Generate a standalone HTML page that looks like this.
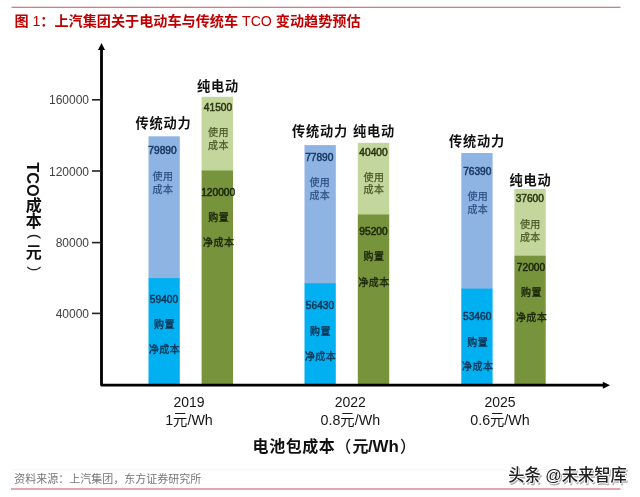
<!DOCTYPE html>
<html lang="zh-CN"><head><meta charset="utf-8"><title>图 1：上汽集团关于电动车与传统车 TCO 变动趋势预估</title>
<style>
html,body{margin:0;padding:0;background:#fff;}
body{width:640px;height:497px;overflow:hidden;position:relative;font-family:"Liberation Sans","Noto Sans CJK SC",sans-serif;}
svg{position:absolute;left:0;top:0;display:block}
.soft{filter:blur(0.45px)}
text{font-family:"Liberation Sans","Noto Sans CJK SC",sans-serif;}
.t{font-size:14.13px;fill:#c00000}
.tb{font-weight:bold}
.ax{font-size:12px;fill:#404040}
.xl{font-size:14px;fill:#161616}
.lab{font-size:13.2px;font-weight:bold;fill:#111;letter-spacing:0.8px}
.n{font-size:10.2px;stroke-width:0.5px}
.c{font-size:10px;letter-spacing:0.4px}
</style></head><body>
<svg width="640" height="497" viewBox="0 0 640 497">

<rect x="11.5" y="6.75" width="609" height="1" fill="#b85a66"/>
<rect x="11" y="488.5" width="609.5" height="1" fill="#d2485a"/>
<rect x="11.5" y="469.3" width="608.5" height="1" fill="#f4f4f4"/>
<g class="soft">
<text class="t" x="14.4" y="25.6"><tspan class="tb">图</tspan> 1<tspan class="tb">：上汽集团关于电动车与传统车</tspan> TCO <tspan class="tb">变动趋势预估</tspan></text>
<rect x="148.5" y="136.3" width="31.3" height="142.3" fill="#8eb4e3"/>
<rect x="148.5" y="278.1" width="31.3" height="105.9" fill="#00b0f0"/>
<rect x="201.6" y="96.8" width="31.4" height="74.2" fill="#c3d69b"/>
<rect x="201.6" y="170.5" width="31.4" height="213.5" fill="#77933c"/>
<rect x="304.5" y="145.1" width="31.3" height="138.8" fill="#8eb4e3"/>
<rect x="304.5" y="283.3" width="31.3" height="100.7" fill="#00b0f0"/>
<rect x="357.8" y="142.8" width="31.4" height="72.2" fill="#c3d69b"/>
<rect x="357.8" y="214.5" width="31.4" height="169.5" fill="#77933c"/>
<rect x="461.3" y="153.0" width="31.3" height="136.1" fill="#8eb4e3"/>
<rect x="461.3" y="288.6" width="31.3" height="95.4" fill="#00b0f0"/>
<rect x="514.4" y="189.0" width="31.3" height="67.2" fill="#c3d69b"/>
<rect x="514.4" y="255.7" width="31.3" height="128.3" fill="#77933c"/>
<polyline points="101.5,49 101.5,385.1 603,385.1" fill="none" stroke="#000" stroke-width="2.8" stroke-linejoin="round"/>
<polygon points="101.5,43 105,50 98,50" fill="#000"/>
<polygon points="610,385.2 602.8,381.7 602.8,388.7" fill="#000"/>
<rect x="92" y="99.0" width="9" height="1.6" fill="#222"/>
<text class="ax" x="89" y="104.4" text-anchor="end">160000</text>
<rect x="92" y="170.2" width="9" height="1.6" fill="#222"/>
<text class="ax" x="89" y="175.6" text-anchor="end">120000</text>
<rect x="92" y="241.79999999999998" width="9" height="1.6" fill="#222"/>
<text class="ax" x="89" y="247.2" text-anchor="end">80000</text>
<rect x="92" y="312.59999999999997" width="9" height="1.6" fill="#222"/>
<text class="ax" x="89" y="318.0" text-anchor="end">40000</text>
<text x="33.4" y="162.2" style="writing-mode:vertical-rl;font-size:16.4px;font-weight:bold;fill:#111">TCO</text>
<text x="32.2" y="196.6" style="writing-mode:vertical-rl;font-size:16px;font-weight:bold;fill:#111">成本</text>
<text x="32.2" y="244.4" style="writing-mode:vertical-rl;font-size:16px;font-weight:bold;fill:#111">元</text>
<text transform="translate(33.4,236.4) rotate(90)" x="-11.5" y="5" style="font-size:14.5px;font-weight:500;fill:#222">（</text>
<text transform="translate(33.4,268.8) rotate(90)" x="-3" y="5" style="font-size:14.5px;font-weight:500;fill:#222">）</text>
<text class="lab" x="163.4" y="128.1" text-anchor="middle">传统动力</text>
<text class="lab" x="218.1" y="90.80000000000001" text-anchor="middle">纯电动</text>
<text class="lab" x="320.09999999999997" y="136.4" text-anchor="middle">传统动力</text>
<text class="lab" x="374.09999999999997" y="136.4" text-anchor="middle">纯电动</text>
<text class="lab" x="476.9" y="145.9" text-anchor="middle">传统动力</text>
<text class="lab" x="530.4" y="184.9" text-anchor="middle">纯电动</text>
<text class="xl" x="189" y="407.1" text-anchor="middle">2019</text>
<text class="xl" x="189" y="424.9" text-anchor="middle" style="font-size:14.3px">1元/Wh</text>
<text class="xl" x="350.3" y="407.1" text-anchor="middle">2022</text>
<text class="xl" x="350.3" y="424.9" text-anchor="middle" style="font-size:14.3px">0.8元/Wh</text>
<text class="xl" x="500" y="407.1" text-anchor="middle">2025</text>
<text class="xl" x="500" y="424.9" text-anchor="middle" style="font-size:14.3px">0.6元/Wh</text>
<text x="252.6" y="452" style="font-size:16px;font-weight:bold;fill:#111;letter-spacing:0.55px">电池包成本</text>
<text x="335.3" y="452" style="font-size:16px;font-weight:500;fill:#111">（</text>
<text x="352.5" y="452" style="font-size:16px;font-weight:bold;fill:#111">元<tspan style="font-size:16.9px" dx="-0.6">/Wh</tspan></text>
<text x="399.9" y="452" style="font-size:16px;font-weight:500;fill:#111">）</text>
<text class="n" x="162.5" y="154.1" text-anchor="middle" fill="#17375e" stroke="#17375e">79890</text>
<text class="c" x="163.0" y="179.7" text-anchor="middle" fill="#2f5285" stroke="#2f5285" stroke-width="0.25">使用</text>
<text class="c" x="163.0" y="192.5" text-anchor="middle" fill="#2f5285" stroke="#2f5285" stroke-width="0.25">成本</text>
<text class="n" x="164" y="302.6" text-anchor="middle" fill="#0c3354" stroke="#0c3354">59400</text>
<text class="c" x="164.5" y="327.8" text-anchor="middle" fill="#0c3354" stroke="#0c3354" stroke-width="0.35">购置</text>
<text class="c" x="164.5" y="353.1" text-anchor="middle" fill="#0c3354" stroke="#0c3354" stroke-width="0.35">净成本</text>
<text class="n" x="218" y="110.8" text-anchor="middle" fill="#2c3714" stroke="#2c3714">41500</text>
<text class="c" x="218.5" y="136.4" text-anchor="middle" fill="#4a5a28" stroke="#4a5a28" stroke-width="0.25">使用</text>
<text class="c" x="218.5" y="148.9" text-anchor="middle" fill="#4a5a28" stroke="#4a5a28" stroke-width="0.25">成本</text>
<text class="n" x="218.2" y="195.5" text-anchor="middle" fill="#1a260a" stroke="#1a260a">120000</text>
<text class="c" x="218.7" y="221.4" text-anchor="middle" fill="#1a260a" stroke="#1a260a" stroke-width="0.35">购置</text>
<text class="c" x="218.7" y="246.4" text-anchor="middle" fill="#1a260a" stroke="#1a260a" stroke-width="0.35">净成本</text>
<text class="n" x="319.3" y="160.5" text-anchor="middle" fill="#17375e" stroke="#17375e">77890</text>
<text class="c" x="319.8" y="186.1" text-anchor="middle" fill="#2f5285" stroke="#2f5285" stroke-width="0.25">使用</text>
<text class="c" x="319.8" y="198.7" text-anchor="middle" fill="#2f5285" stroke="#2f5285" stroke-width="0.25">成本</text>
<text class="n" x="320" y="309.4" text-anchor="middle" fill="#0c3354" stroke="#0c3354">56430</text>
<text class="c" x="320.5" y="335.4" text-anchor="middle" fill="#0c3354" stroke="#0c3354" stroke-width="0.35">购置</text>
<text class="c" x="320.5" y="359.7" text-anchor="middle" fill="#0c3354" stroke="#0c3354" stroke-width="0.35">净成本</text>
<text class="n" x="373.5" y="155.7" text-anchor="middle" fill="#2c3714" stroke="#2c3714">40400</text>
<text class="c" x="374.0" y="180.7" text-anchor="middle" fill="#4a5a28" stroke="#4a5a28" stroke-width="0.25">使用</text>
<text class="c" x="374.0" y="193.0" text-anchor="middle" fill="#4a5a28" stroke="#4a5a28" stroke-width="0.25">成本</text>
<text class="n" x="373.5" y="234.9" text-anchor="middle" fill="#1a260a" stroke="#1a260a">95200</text>
<text class="c" x="374.0" y="260.4" text-anchor="middle" fill="#1a260a" stroke="#1a260a" stroke-width="0.35">购置</text>
<text class="c" x="374.0" y="285.9" text-anchor="middle" fill="#1a260a" stroke="#1a260a" stroke-width="0.35">净成本</text>
<text class="n" x="477.3" y="174.6" text-anchor="middle" fill="#17375e" stroke="#17375e">76390</text>
<text class="c" x="477.8" y="200.4" text-anchor="middle" fill="#2f5285" stroke="#2f5285" stroke-width="0.25">使用</text>
<text class="c" x="477.8" y="212.8" text-anchor="middle" fill="#2f5285" stroke="#2f5285" stroke-width="0.25">成本</text>
<text class="n" x="477.2" y="319.8" text-anchor="middle" fill="#0c3354" stroke="#0c3354">53460</text>
<text class="c" x="477.7" y="345.7" text-anchor="middle" fill="#0c3354" stroke="#0c3354" stroke-width="0.35">购置</text>
<text class="c" x="477.7" y="370.3" text-anchor="middle" fill="#0c3354" stroke="#0c3354" stroke-width="0.35">净成本</text>
<text class="n" x="529.8" y="202.0" text-anchor="middle" fill="#2c3714" stroke="#2c3714">37600</text>
<text class="c" x="530.3" y="228.2" text-anchor="middle" fill="#4a5a28" stroke="#4a5a28" stroke-width="0.25">使用</text>
<text class="c" x="530.3" y="240.7" text-anchor="middle" fill="#4a5a28" stroke="#4a5a28" stroke-width="0.25">成本</text>
<text class="n" x="531" y="270.9" text-anchor="middle" fill="#1a260a" stroke="#1a260a">72000</text>
<text class="c" x="531.5" y="296.4" text-anchor="middle" fill="#1a260a" stroke="#1a260a" stroke-width="0.35">购置</text>
<text class="c" x="531.5" y="321.4" text-anchor="middle" fill="#1a260a" stroke="#1a260a" stroke-width="0.35">净成本</text>
<text x="14.2" y="482.7" style="font-size:11px;fill:#777">资料来源：上汽集团，东方证券研究所</text>
<text x="509.6" y="482.6" textLength="118.5" lengthAdjust="spacingAndGlyphs" style="font-size:16.6px;font-weight:500;fill:#9a9a9a;stroke:#9a9a9a;stroke-width:0.8px;opacity:0.75">头条 @未来智库</text>
<text x="508.3" y="481.3" textLength="118.5" lengthAdjust="spacingAndGlyphs" style="font-size:16.6px;font-weight:500;fill:#222;stroke:#fff;stroke-width:1.8px;paint-order:stroke fill;stroke-linejoin:round">头条 @未来智库</text>
</g>
</svg></body></html>
